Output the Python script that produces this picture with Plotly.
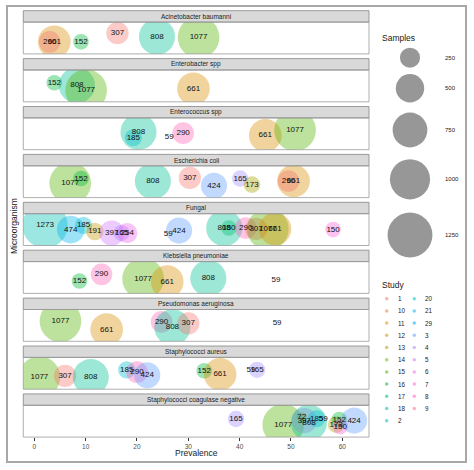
import math
import plotly.graph_objects as go

W, H = 474, 470
FONT = "Liberation Sans, Arial, sans-serif"

# ---- data ----
organisms = [
    "Acinetobacter baumanni", "Enterobacter spp", "Enterococcus spp",
    "Escherichia coli", "Fungal", "Klebsiella pneumoniae",
    "Pseudomonas aeruginosa", "Staphylococci aureus",
    "Staphylococci coagulase negative",
]
study_levels = ["1", "10", "11", "12", "13", "14", "15", "16", "17", "18", "2",
                "20", "21", "29", "3", "4", "5", "6", "7", "8", "9"]

organism_idx = [0] * 6 + [1] * 4 + [2] * 6 + [3] * 9 + [4] * 16 + [5] * 6 + [6] * 6 + [7] * 10 + [8] * 11
study = [
    "8", "11", "16", "1", "18", "15",
    "16", "18", "15", "11",
    "18", "20", "10", "8", "11", "15",
    "15", "16", "18", "1", "3", "4", "13", "8", "11",
    "2", "21", "20", "12", "5", "4", "6", "10", "3", "18", "17", "8", "1", "15", "11", "7",
    "16", "8", "15", "11", "18", "10",
    "15", "11", "8", "18", "1", "10",
    "15", "1", "18", "20", "8", "3", "16", "11", "10", "4",
    "4", "15", "14", "5", "18", "20", "10", "13", "16", "7", "3",
]
samples = [
    290, 661, 152, 307, 808, 1077,
    152, 808, 1077, 661,
    808, 185, 59, 290, 661, 1077,
    1077, 152, 808, 307, 424, 165, 173, 290, 661,
    1273, 474, 185, 191, 397, 165, 254, 59, 424, 808, 150, 290, 307, 1077, 661, 150,
    152, 290, 1077, 661, 808, 59,
    1077, 661, 290, 808, 307, 59,
    1077, 307, 808, 185, 290, 424, 152, 661, 59, 165,
    165, 1077, 72, 397, 808, 185, 59, 173, 152, 150, 424,
]
prevalence = [
    3.0, 3.9, 9.1, 16.2, 23.9, 32.0,
    3.9, 8.3, 10.1, 31.0,
    20.3, 19.3, 26.3, 29.0, 45.0, 50.8,
    7.0, 9.1, 23.1, 30.3, 35.0, 40.1, 42.4, 49.5, 50.5,
    2.1, 7.1, 9.6, 11.8, 15.1, 17.0, 18.1, 26.1, 28.2, 37.0, 37.9, 41.2, 43.2, 45.5, 46.9, 58.2,
    8.8, 13.1, 21.2, 25.9, 33.9, 47.1,
    5.1, 14.1, 24.8, 26.9, 30.0, 47.3,
    1.0, 6.0, 11.0, 18.0, 20.0, 22.0, 33.1, 36.2, 42.2, 43.4,
    39.3, 48.5, 52.1, 52.6, 53.5, 55.0, 56.3, 58.8, 59.4, 59.6, 62.3,
]
# vertical jitter inside each facet (0 = bottom, 1 = top)
jitter = [
    0.38, 0.38, 0.38, 0.65, 0.54, 0.52,
    0.60, 0.52, 0.36, 0.41,
    0.56, 0.38, 0.40, 0.52, 0.45, 0.61,
    0.45, 0.60, 0.52, 0.62, 0.37, 0.60, 0.41, 0.52, 0.52,
    0.63, 0.50, 0.63, 0.44, 0.39, 0.39, 0.39, 0.37, 0.47, 0.55, 0.55, 0.55, 0.52, 0.52, 0.52, 0.50,
    0.39, 0.60, 0.46, 0.37, 0.48, 0.42,
    0.63, 0.37, 0.61, 0.44, 0.56, 0.56,
    0.38, 0.42, 0.38, 0.61, 0.54, 0.44, 0.58, 0.47, 0.61, 0.61,
    0.57, 0.39, 0.62, 0.52, 0.45, 0.58, 0.58, 0.39, 0.55, 0.33, 0.52,
]
size_breaks = [250, 500, 750, 1000, 1250]
x_ticks = [0, 10, 20, 30, 40, 50, 60]


def hcl_hex(h, c=100, l=65):
    xn, yn, zn = 95.047, 100.0, 108.883
    un = 4 * xn / (xn + 15 * yn + 3 * zn)
    vn = 9 * yn / (xn + 15 * yn + 3 * zn)
    hr = math.radians(h)
    u = c * math.cos(hr) / (13 * l) + un
    v = c * math.sin(hr) / (13 * l) + vn
    y = yn * ((l + 16) / 116) ** 3
    x = 9 * y * u / (4 * v)
    z = -x / 3 - 5 * y + 3 * y / v
    x, y, z = x / 100, y / 100, z / 100
    rgb = [3.240479 * x - 1.537150 * y - 0.498535 * z,
           -0.969256 * x + 1.875992 * y + 0.041556 * z,
           0.055648 * x - 0.204043 * y + 1.057311 * z]
    out = []
    for ch in rgb:
        ch = 1.055 * ch ** (1 / 2.4) - 0.055 if ch > 0.0031308 else 12.92 * ch
        out.append(int(round(min(max(ch, 0), 1) * 255)))
    return out


n_lv = len(study_levels)
palette = {s: hcl_hex(15 + 360 * i / n_lv) for i, s in enumerate(study_levels)}
ALPHA = 0.55


def rgba(s, a=ALPHA):
    r, g, b = palette[s]
    return f"rgba({r},{g},{b},{a})"


def diam(n):
    return 1.27 * math.sqrt(n)


MIN_SIZE = 60  # below the size scale limits -> no point drawn


def fx(p):
    return p / W


def fy(p):
    return 1 - p / H


def note(text, x, y, size, **kw):
    d = dict(text=text, x=fx(x), y=fy(y), xref="paper", yref="paper",
             xanchor="center", yanchor="middle", showarrow=False,
             font=dict(size=size, color="#1a1a1a", family=FONT))
    d.update(kw)
    return d


# ---- layout geometry (pixels) ----
PX0, PX1 = 23.3, 369.0
TOP0, PERIOD, STRIP_H, PANEL_H = 10.7, 47.9, 11.4, 31.8

fig = go.Figure()
shapes, annotations = [], []
layout = {}

for p, org in enumerate(organisms):
    st = TOP0 + PERIOD * p
    sb = st + STRIP_H
    pb = sb + PANEL_H
    k = "" if p == 0 else str(p + 1)
    bottom = p == len(organisms) - 1
    layout["xaxis" + k] = dict(
        domain=[fx(PX0), fx(PX1)], range=[-2.14, 65.2], anchor="y" + k,
        showgrid=False, zeroline=False, showline=False,
        showticklabels=bottom, ticks="outside" if bottom else "",
        tickvals=x_ticks, ticklen=3, tickwidth=0.8, tickcolor="#333333",
        tickfont=dict(size=6.5, color="#4d4d4d", family=FONT),
    )
    layout["yaxis" + k] = dict(
        domain=[fy(pb), fy(sb)], range=[0, 1], anchor="x" + k,
        showgrid=False, zeroline=False, showticklabels=False, showline=False,
    )
    idx = [i for i in range(len(samples)) if organism_idx[i] == p]
    pts = [i for i in idx if samples[i] >= MIN_SIZE]
    fig.add_trace(go.Scatter(
        x=[prevalence[i] for i in pts], y=[jitter[i] for i in pts],
        mode="markers", xaxis="x" + k, yaxis="y" + k,
        marker=dict(size=[diam(samples[i]) for i in pts],
                    color=[rgba(study[i]) for i in pts], line=dict(width=0)),
        hoverinfo="skip",
    ))
    fig.add_trace(go.Scatter(
        x=[prevalence[i] for i in idx], y=[jitter[i] for i in idx],
        mode="text", text=[str(samples[i]) for i in idx],
        textfont=dict(size=8, color="#111111", family=FONT),
        xaxis="x" + k, yaxis="y" + k, hoverinfo="skip",
    ))
    # strip and panel border
    shapes.append(dict(type="rect", xref="paper", yref="paper",
                       x0=fx(PX0), x1=fx(PX1), y0=fy(sb), y1=fy(st),
                       fillcolor="#d9d9d9", line=dict(color="#858585", width=0.8)))
    shapes.append(dict(type="rect", xref="paper", yref="paper", layer="above",
                       x0=fx(PX0), x1=fx(PX1), y0=fy(pb), y1=fy(sb),
                       line=dict(color="#9a9a9a", width=0.8)))
    annotations.append(note(org, (PX0 + PX1) / 2, (st + sb) / 2, 6.5))

# ---- legends (drawn on a pixel-space overlay axis) ----
layout["xaxis10"] = dict(domain=[0, 1], range=[0, W], visible=False, anchor="y10")
layout["yaxis10"] = dict(domain=[0, 1], range=[H, 0], visible=False, anchor="x10")

size_y = [57.7, 88.3, 130.0, 179.3, 235.0]
fig.add_trace(go.Scatter(
    x=[410] * len(size_breaks), y=size_y, mode="markers", xaxis="x10", yaxis="y10",
    marker=dict(size=[diam(v) for v in size_breaks], color="rgba(0,0,0,0.58)",
                line=dict(width=0)),
    hoverinfo="skip", cliponaxis=False,
))
for v, yy in zip(size_breaks, size_y):
    annotations.append(note(str(v), 442.5, yy, 6, xanchor="left"))

lx, ly = [], []
for i, s in enumerate(study_levels):
    col, row = divmod(i, 11)
    dx = 386.7 + col * 27.6
    dy = 298.7 + row * 12.2
    lx.append(dx)
    ly.append(dy)
    annotations.append(note(s, dx + 9, dy, 6.3, xanchor="left"))
fig.add_trace(go.Scatter(
    x=lx, y=ly, mode="markers", xaxis="x10", yaxis="y10",
    marker=dict(size=3.5, color=[rgba(s) for s in study_levels], line=dict(width=0)),
    hoverinfo="skip", cliponaxis=False,
))

annotations += [
    note("Samples", 380, 38.3, 8.5, xanchor="left"),
    note("Study", 380, 285, 8.5, xanchor="left"),
    note("Prevalence", (PX0 + PX1) / 2, 452.7, 8.5),
    note("Microorganism", 14, 226, 8.5, textangle=-90),
]

# outer frame of the picture
shapes.append(dict(type="rect", xref="paper", yref="paper",
                   x0=fx(7), x1=fx(466), y0=fy(462), y1=fy(6),
                   line=dict(color="#a8a8a8", width=2)))

fig.update_layout(
    width=W, height=H, margin=dict(l=0, r=0, t=0, b=0),
    paper_bgcolor="white", plot_bgcolor="rgba(0,0,0,0)", showlegend=False,
    shapes=shapes, annotations=annotations, **layout,
)

fig.write_html("out.html", config={"displayModeBar": False},
               post_script="document.body.style.margin='0';")
